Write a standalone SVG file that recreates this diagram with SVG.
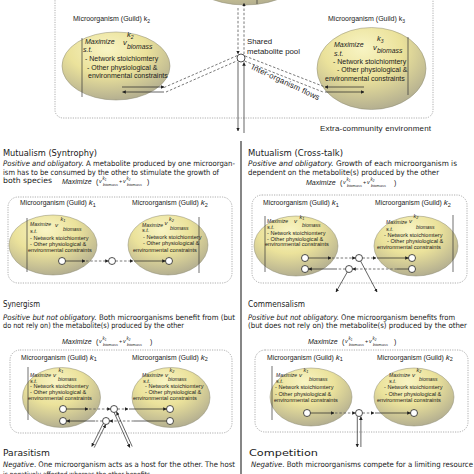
<svg xmlns="http://www.w3.org/2000/svg" width="474" height="474" viewBox="0 0 474 474">
<defs>
<radialGradient id="eg" cx="0.42" cy="0.28" r="0.8" fx="0.42" fy="0.25">
<stop offset="0" stop-color="#f8f4c4"/>
<stop offset="0.45" stop-color="#ebe29b"/>
<stop offset="1" stop-color="#a9a58e"/>
</radialGradient>
<marker id="a" viewBox="0 0 6 6" refX="5.5" refY="3" markerWidth="3.6" markerHeight="3.6" markerUnits="userSpaceOnUse" orient="auto"><path d="M0,0 L6,3 L0,6 z" fill="#222"/></marker>
<style>
.t{font-family:'Liberation Sans',Arial,sans-serif;fill:#1a1a1a}
.it{font-style:italic}
.in{font-size:5.6px}
.im{font-size:5px;font-style:italic}
.iv{font-size:6px;font-style:italic}
.ik{font-size:5.4px;font-style:italic}
.ib{font-size:5px;font-style:italic}
.tp{font-size:7px}
.tv{font-size:7.5px;font-style:italic}
.tb{font-size:6.8px;font-style:italic}
.lab{font-size:6.8px}
.kk{font-size:8px;font-style:italic}
.hd{font-family:'DejaVu Sans Condensed','DejaVu Sans',sans-serif;font-size:9.5px;fill:#1a1a1a}
.ds{font-family:'DejaVu Sans Condensed','DejaVu Sans',sans-serif;font-size:7.6px;fill:#1a1a1a}
.fm{font-size:7px;font-style:italic}
.fv{font-size:5.5px;font-style:italic}
.fk{font-size:4.5px;font-style:italic}
.fb{font-size:4px;font-style:italic}
.ln{stroke:#222;stroke-width:0.7;fill:none}
.dl{stroke:#555;stroke-width:0.8;stroke-dasharray:2.5 1.8;fill:none}
.nd{fill:#fff;stroke:#222;stroke-width:0.8}
.bx{fill:none;stroke:#999;stroke-width:0.8;stroke-dasharray:1.2 1.2}
.el{fill:url(#eg);stroke:#8d8a72;stroke-width:0.5}
.br{stroke:#333;stroke-width:0.7}
.sep{stroke:#444;stroke-width:1.3}
</style>
</defs>
<rect width="474" height="474" fill="#fff"/>

<!-- ===== TOP COMMUNITY ===== -->
<g id="community-boundary"><rect class="bx" x="55" y="-12" width="378" height="130" rx="8"/></g>
<g id="guild-k1-top">
<ellipse class="el" cx="245" cy="-29" rx="60" ry="34"/>
<line class="br" x1="257" y1="0" x2="257" y2="4"/>
</g>
<g id="guild-k2-top">
<text class="t tp" x="73" y="21">Microorganism (Guild) k<tspan font-size="5" dy="2">2</tspan></text>
<ellipse class="el" cx="116" cy="66" rx="54" ry="34"/>
<line class="br" x1="82" y1="38" x2="82" y2="97"/>
<text class="t tp it" x="85" y="44">Maximize</text>
<text class="t tv" x="123" y="45">v</text>
<text class="t tv" x="127" y="37">k<tspan font-size="5" dy="1.5">2</tspan></text>
<text class="t tb" x="127" y="48.5">biomass</text>
<text class="t tp it" x="83" y="52">s.t.</text>
<text class="t tp" x="85" y="61">- Network stoichiomtery</text>
<text class="t tp" x="87" y="69.5">- Other physiological &amp;</text>
<text class="t tp" x="88" y="78">environmental constraints</text>
</g>
<g id="guild-k3-top">
<text class="t tp" x="328" y="21">Microorganism (Guild) k<tspan font-size="5" dy="2">3</tspan></text>
<ellipse class="el" cx="371.5" cy="68.5" rx="54.5" ry="41"/>
<line class="br" x1="408" y1="37" x2="408" y2="95"/>
<text class="t tp it" x="334" y="47">Maximize</text>
<text class="t tv" x="373" y="50">v</text>
<text class="t tv" x="377" y="41">k<tspan font-size="5" dy="1.5">3</tspan></text>
<text class="t tb" x="377" y="53">biomass</text>
<text class="t tp it" x="334" y="55.5">s.t.</text>
<text class="t tp" x="333" y="63.5">- Network stoichiomtery</text>
<text class="t tp" x="337" y="72">- Other physiological  &amp;</text>
<text class="t tp" x="325" y="81">environmental constraints</text>
</g>
<g id="top-connectors">
<line class="ln" x1="122" y1="87" x2="164" y2="87" marker-end="url(#a)"/>
<line class="ln" x1="164" y1="92" x2="122.5" y2="92" marker-end="url(#a)"/>
<line class="dl" x1="164" y1="87.5" x2="237.5" y2="55.5"/>
<line class="dl" x1="166" y1="92" x2="239" y2="60"/>
<line class="dl" x1="245" y1="56" x2="325" y2="87"/>
<line class="dl" x1="244.5" y1="61" x2="323" y2="92"/>
<line class="ln" x1="364" y1="87" x2="325" y2="87" marker-end="url(#a)"/>
<line class="ln" x1="325" y1="92" x2="364" y2="92" marker-end="url(#a)"/>
<line class="dl" x1="238" y1="8" x2="238" y2="54" marker-end="url(#a)"/>
<line class="dl" x1="244" y1="54" x2="244" y2="3" marker-end="url(#a)"/>
<line class="ln" x1="238" y1="62" x2="238" y2="131" marker-end="url(#a)"/>
<line class="ln" x1="244" y1="133" x2="244" y2="62.5" marker-end="url(#a)"/>
</g>
<g id="shared-pool">
<circle class="nd" cx="241" cy="58" r="4"/>
<text class="t" font-size="7.8" x="247" y="44">Shared</text>
<text class="t" font-size="7.8" x="247" y="54">metabolite pool</text>
</g>
<text class="t" font-size="7.8" x="251" y="69" transform="rotate(25 251 69)" textLength="74">Inter-organism flows</text>
<text class="t" font-size="8" x="320" y="130.5" textLength="111">Extra-community environment</text>

<line class="sep" x1="241" y1="141" x2="241" y2="474"/>

<!-- ===== PANEL 1: SYNTROPHY ===== -->
<text class="hd" x="3" y="155.5" textLength="94" lengthAdjust="spacingAndGlyphs">Mutualism (Syntrophy)</text>
<text class="ds" x="3" y="166" textLength="232" lengthAdjust="spacingAndGlyphs"><tspan font-style="italic">Positive and obligatory.</tspan> A metabolite produced by one microorgan-</text>
<text class="ds" x="3" y="174.8" textLength="216" lengthAdjust="spacingAndGlyphs">ism has to be consumed by the other to stimulate the growth of</text>
<text class="ds" x="3" y="183" textLength="49" lengthAdjust="spacingAndGlyphs">both species</text>
<g id="formula-1" class="t" transform="translate(62,184)">
<text class="fm" x="0" y="0">Maximize</text><text font-size="7" x="34" y="0">(</text>
<text class="fv" x="37" y="-1">v</text><text class="fk" x="40.5" y="-3.8">k<tspan font-size="3" dy="1">1</tspan></text><text class="fb" x="41" y="1.5">biomass</text>
<text font-size="5.5" x="57" y="-1">+</text>
<text class="fv" x="61" y="-1">v</text><text class="fk" x="64.5" y="-3.8">k<tspan font-size="3" dy="1">2</tspan></text><text class="fb" x="65" y="1.5">biomass</text>
<text font-size="7" x="85" y="0">)</text>
</g>
<g id="p1-environment"><rect class="bx" x="8" y="197" width="224" height="86" rx="10"/></g>
<g id="p1-k1">
<text class="t lab" x="20" y="205">Microorganism (Guild) <tspan class="kk">k</tspan><tspan font-size="5.5" dy="1.5">1</tspan></text>
<ellipse class="el" cx="53" cy="245" rx="44" ry="30"/>
<line class="br" x1="27" y1="218" x2="27" y2="272"/>
<text class="t im" x="30" y="226">Maximize</text>
<text class="t iv" x="55" y="227">v</text>
<text class="t ik" x="60.5" y="221">k<tspan font-size="3.8" dy="1">1</tspan></text>
<text class="t ib" x="63" y="231">biomass</text>
<text class="t in it" x="30" y="233">s.t.</text>
<text class="t in" x="30" y="240">- Network stoichiomtery</text>
<text class="t in" x="30" y="246">- Other physiological &amp;</text>
<text class="t in" x="28" y="252">environmental constraints</text>
<circle class="nd" cx="62" cy="261" r="3.5"/>
</g>
<g id="p1-k2">
<text class="t lab" x="132" y="205">Microorganism (Guild) <tspan class="kk">k</tspan><tspan font-size="5.5" dy="1.5">2</tspan></text>
<ellipse class="el" cx="168" cy="245" rx="40" ry="30"/>
<line class="br" x1="199" y1="217" x2="199" y2="273"/>
<text class="t im" x="142" y="227">Maximize</text>
<text class="t iv" x="164.5" y="225">v</text>
<text class="t ik" x="169" y="220.5">k<tspan font-size="3.8" dy="1">2</tspan></text>
<text class="t ib" x="170" y="229.5">biomass</text>
<text class="t in it" x="142" y="231.5">s.t.</text>
<text class="t in" x="143" y="239">- Network stoichiomtery</text>
<text class="t in" x="143" y="245">- Other physiological &amp;</text>
<text class="t in" x="133" y="252">environmental constraints</text>
<circle class="nd" cx="169" cy="261" r="3.5"/>
</g>
<g id="p1-metabolite"><circle class="nd" cx="112" cy="261" r="3.5"/></g>
<g id="p1-connectors">
<line class="ln" x1="65.5" y1="261" x2="85" y2="261" marker-end="url(#a)"/>
<line class="dl" x1="86" y1="261" x2="108.5" y2="261" marker-end="url(#a)"/>
<line class="dl" x1="115.5" y1="261" x2="133" y2="261" marker-end="url(#a)"/>
<line class="ln" x1="134" y1="261" x2="165.5" y2="261" marker-end="url(#a)"/>
</g>

<!-- ===== PANEL 2: CROSS-TALK ===== -->
<text class="hd" x="248" y="155.5" textLength="95" lengthAdjust="spacingAndGlyphs">Mutualism (Cross-talk)</text>
<text class="ds" x="248" y="166" textLength="209" lengthAdjust="spacingAndGlyphs"><tspan font-style="italic">Positive and obligatory.</tspan> Growth of each microorganism is</text>
<text class="ds" x="248" y="174.8" textLength="191" lengthAdjust="spacingAndGlyphs">dependent on the metabolite(s) produced by the other</text>
<g id="formula-2" class="t" transform="translate(306,185)">
<text class="fm" x="0" y="0">Maximize</text><text font-size="7" x="34" y="0">(</text>
<text class="fv" x="37" y="-1">v</text><text class="fk" x="40.5" y="-3.8">k<tspan font-size="3" dy="1">1</tspan></text><text class="fb" x="41" y="1.5">biomass</text>
<text font-size="5.5" x="57" y="-1">+</text>
<text class="fv" x="61" y="-1">v</text><text class="fk" x="64.5" y="-3.8">k<tspan font-size="3" dy="1">2</tspan></text><text class="fb" x="65" y="1.5">biomass</text>
<text font-size="7" x="88" y="0">)</text>
</g>
<g id="p2-environment"><rect class="bx" x="252" y="195" width="215" height="88" rx="10"/></g>
<g id="p2-k1">
<text class="t lab" x="263" y="205">Microorganism (Guild) <tspan class="kk">k</tspan><tspan font-size="5.5" dy="1.5">1</tspan></text>
<ellipse class="el" cx="296" cy="246" rx="42" ry="30"/>
<line class="br" x1="265" y1="216" x2="265" y2="272"/>
<text class="t im" x="267" y="223">Maximize</text>
<text class="t iv" x="294" y="223">v</text>
<text class="t ik" x="299.5" y="218.5">k<tspan font-size="3.8" dy="1">1</tspan></text>
<text class="t ib" x="302" y="227">biomass</text>
<text class="t in it" x="267" y="229">s.t.</text>
<text class="t in" x="267" y="234.5">- Network stoichiomtery</text>
<text class="t in" x="267" y="240.5">- Other physiological &amp;</text>
<text class="t in" x="265" y="246">environmental constraints</text>
<circle class="nd" cx="305" cy="258" r="3.5"/>
<circle class="nd" cx="305" cy="269" r="3.5"/>
</g>
<g id="p2-k2">
<text class="t lab" x="375" y="205">Microorganism (Guild) <tspan class="kk">k</tspan><tspan font-size="5.5" dy="1.5">2</tspan></text>
<ellipse class="el" cx="416" cy="246" rx="42" ry="30"/>
<line class="br" x1="453" y1="215" x2="453" y2="272"/>
<text class="t im" x="386" y="224">Maximize</text>
<text class="t iv" x="409" y="222.5">v</text>
<text class="t ik" x="413.5" y="218">k<tspan font-size="3.8" dy="1">2</tspan></text>
<text class="t ib" x="416" y="229">biomass</text>
<text class="t in it" x="386" y="231">s.t.</text>
<text class="t in" x="384" y="236.5">- Network stoichiomtery</text>
<text class="t in" x="387" y="243">- Other physiological &amp;</text>
<text class="t in" x="377" y="249">environmental constraints</text>
<circle class="nd" cx="412" cy="258" r="3.5"/>
<circle class="nd" cx="412" cy="269" r="3.5"/>
</g>
<g id="p2-metabolites">
<circle class="nd" cx="359" cy="258" r="3.5"/>
<circle class="nd" cx="349" cy="269" r="3.5"/>
</g>
<g id="p2-connectors">
<line class="ln" x1="308.5" y1="258" x2="331" y2="258" marker-end="url(#a)"/>
<line class="dl" x1="332" y1="258" x2="355.5" y2="258" marker-end="url(#a)"/>
<line class="dl" x1="362.5" y1="258" x2="376" y2="258" marker-end="url(#a)"/>
<line class="ln" x1="377" y1="258" x2="408.5" y2="258" marker-end="url(#a)"/>
<line class="ln" x1="408.5" y1="269" x2="397" y2="269"/>
<line class="dl" x1="397" y1="269" x2="352.5" y2="269" marker-end="url(#a)"/>
<line class="dl" x1="345.5" y1="269" x2="337" y2="269"/>
<line class="ln" x1="337" y1="269" x2="308.5" y2="269" marker-end="url(#a)"/>
<line class="ln" x1="347.3" y1="272" x2="336" y2="292" marker-end="url(#a)"/>
<line class="ln" x1="360.6" y1="261.1" x2="377" y2="292" marker-end="url(#a)"/>
</g>

<!-- ===== PANEL 3: SYNERGISM ===== -->
<text class="hd" x="3" y="306.5" textLength="37" lengthAdjust="spacingAndGlyphs">Synergism</text>
<text class="ds" x="3" y="319.5" textLength="232" lengthAdjust="spacingAndGlyphs"><tspan font-style="italic">Positive but not obligatory.</tspan> Both microorganisms benefit from (but</text>
<text class="ds" x="3" y="328" textLength="181" lengthAdjust="spacingAndGlyphs">do not rely on) the metabolite(s) produced by the other</text>
<g id="formula-3" class="t" transform="translate(62,344)">
<text class="fm" x="0" y="0">Maximize</text><text font-size="7" x="34" y="0">(</text>
<text class="fv" x="37" y="-1">v</text><text class="fk" x="40.5" y="-3.8">k<tspan font-size="3" dy="1">1</tspan></text><text class="fb" x="41" y="1.5">biomass</text>
<text font-size="5.5" x="57" y="-1">+</text>
<text class="fv" x="61" y="-1">v</text><text class="fk" x="64.5" y="-3.8">k<tspan font-size="3" dy="1">2</tspan></text><text class="fb" x="65" y="1.5">biomass</text>
<text font-size="7" x="88" y="0">)</text>
</g>
<g id="p3-environment"><rect class="bx" x="10" y="350" width="222" height="83" rx="10"/></g>
<g id="p3-k1">
<text class="t lab" x="21" y="359.5">Microorganism (Guild) <tspan class="kk">k</tspan><tspan font-size="5.5" dy="1.5">1</tspan></text>
<ellipse class="el" cx="61.5" cy="397.5" rx="39" ry="30"/>
<line class="br" x1="28" y1="367" x2="28" y2="420"/>
<text class="t im" x="30" y="377">Maximize</text>
<text class="t iv" x="53" y="376.5">v</text>
<text class="t ik" x="58.5" y="372">k<tspan font-size="3.8" dy="1">1</tspan></text>
<text class="t ib" x="58" y="380.5">biomass</text>
<text class="t in it" x="30" y="382.5">s.t.</text>
<text class="t in" x="30" y="387.5">- Network stoichiomtery</text>
<text class="t in" x="30" y="393.5">- Other physiological &amp;</text>
<text class="t in" x="28" y="399.5">environmental constraints</text>
<circle class="nd" cx="63" cy="409" r="3.5"/>
<circle class="nd" cx="63" cy="421" r="3.5"/>
</g>
<g id="p3-k2">
<text class="t lab" x="132" y="359.5">Microorganism (Guild) <tspan class="kk">k</tspan><tspan font-size="5.5" dy="1.5">2</tspan></text>
<ellipse class="el" cx="171" cy="397.5" rx="39" ry="30"/>
<text class="t im" x="142" y="377">Maximize</text>
<text class="t iv" x="165" y="376.5">v</text>
<text class="t ik" x="169.5" y="372">k<tspan font-size="3.8" dy="1">2</tspan></text>
<text class="t ib" x="168" y="380.5">biomass</text>
<text class="t in it" x="143" y="382.5">s.t.</text>
<text class="t in" x="145" y="387.5">- Network stoichiomtery</text>
<text class="t in" x="145" y="393.5">- Other physiological &amp;</text>
<text class="t in" x="133" y="399.5">environmental constraints</text>
<circle class="nd" cx="170" cy="409" r="3.5"/>
<circle class="nd" cx="170" cy="421" r="3.5"/>
</g>
<g id="p3-metabolites">
<circle class="nd" cx="114" cy="409" r="3.5"/>
<circle class="nd" cx="106" cy="421" r="3.5"/>
</g>
<g id="p3-connectors">
<line class="ln" x1="66.5" y1="409" x2="88" y2="409" marker-end="url(#a)"/>
<line class="dl" x1="89" y1="409" x2="110.5" y2="409" marker-end="url(#a)"/>
<line class="dl" x1="117.5" y1="409" x2="128" y2="409" marker-end="url(#a)"/>
<line class="ln" x1="129" y1="409" x2="166.5" y2="409" marker-end="url(#a)"/>
<line class="ln" x1="166.5" y1="421" x2="134" y2="421"/>
<line class="dl" x1="134" y1="421" x2="109.5" y2="421" marker-end="url(#a)"/>
<line class="dl" x1="102.5" y1="421" x2="95" y2="421"/>
<line class="ln" x1="95" y1="421" x2="66.5" y2="421" marker-end="url(#a)"/>
<line class="ln" x1="103.2" y1="423.5" x2="91.8" y2="446.4" marker-end="url(#a)"/>
<line class="ln" x1="94.2" y1="447.6" x2="105.6" y2="424.7" marker-end="url(#a)"/>
<line class="ln" x1="114.2" y1="412.7" x2="129.8" y2="447.5" marker-end="url(#a)"/>
<line class="ln" x1="132.2" y1="446.5" x2="116.6" y2="411.9" marker-end="url(#a)"/>
</g>

<!-- ===== PANEL 4: COMMENSALISM ===== -->
<text class="hd" x="248" y="306.5" textLength="57" lengthAdjust="spacingAndGlyphs">Commensalism</text>
<text class="ds" x="248" y="319.5" textLength="207" lengthAdjust="spacingAndGlyphs"><tspan font-style="italic">Positive but not obligatory.</tspan> One microorganism benefits from</text>
<text class="ds" x="248" y="328" textLength="219" lengthAdjust="spacingAndGlyphs">(but does not rely on) the metabolite(s) produced by the other</text>
<g id="formula-4" class="t" transform="translate(308,344)">
<text class="fm" x="0" y="0">Maximize</text><text font-size="7" x="34" y="0">(</text>
<text class="fv" x="37" y="-1">v</text><text class="fk" x="40.5" y="-3.8">k<tspan font-size="3" dy="1">1</tspan></text><text class="fb" x="41" y="1.5">biomass</text>
<text font-size="5.5" x="57" y="-1">+</text>
<text class="fv" x="61" y="-1">v</text><text class="fk" x="64.5" y="-3.8">k<tspan font-size="3" dy="1">2</tspan></text><text class="fb" x="65" y="1.5">biomass</text>
<text font-size="7" x="86" y="0">)</text>
</g>
<g id="p4-environment"><rect class="bx" x="255" y="350" width="213" height="82" rx="10"/></g>
<g id="p4-k1">
<text class="t lab" x="267" y="359.5">Microorganism (Guild) <tspan class="kk">k</tspan><tspan font-size="5.5" dy="1.5">1</tspan></text>
<ellipse class="el" cx="311" cy="397" rx="41" ry="29"/>
<line class="br" x1="272" y1="366" x2="272" y2="420"/>
<text class="t im" x="276" y="377">Maximize</text>
<text class="t iv" x="299" y="376.5">v</text>
<text class="t ik" x="303.5" y="372">k<tspan font-size="3.8" dy="1">1</tspan></text>
<text class="t ib" x="309" y="380.5">biomass</text>
<text class="t in it" x="276" y="383">s.t.</text>
<text class="t in" x="275" y="388.5">- Network stoichiomtery</text>
<text class="t in" x="275" y="395.5">- Other physiological &amp;</text>
<text class="t in" x="274" y="402">environmental constraints</text>
<circle class="nd" cx="307" cy="413" r="3.5"/>
</g>
<g id="p4-k2">
<text class="t lab" x="377" y="359.5">Microorganism (Guild) <tspan class="kk">k</tspan><tspan font-size="5.5" dy="1.5">2</tspan></text>
<ellipse class="el" cx="414" cy="397" rx="40" ry="29"/>
<text class="t im" x="389" y="377">Maximize</text>
<text class="t iv" x="412" y="376.5">v</text>
<text class="t ik" x="416.5" y="372">k<tspan font-size="3.8" dy="1">2</tspan></text>
<text class="t ib" x="419" y="380.5">biomass</text>
<text class="t in it" x="389" y="383">s.t.</text>
<text class="t in" x="384" y="388.5">- Network stoichiomtery</text>
<text class="t in" x="385" y="395.5">- Other physiological &amp;</text>
<text class="t in" x="377" y="402">environmental constraints</text>
<circle class="nd" cx="414" cy="413" r="3.5"/>
</g>
<g id="p4-metabolite"><circle class="nd" cx="359" cy="413" r="3.5"/></g>
<g id="p4-connectors">
<line class="ln" x1="310.5" y1="413" x2="334" y2="413" marker-end="url(#a)"/>
<line class="dl" x1="335" y1="413" x2="355.5" y2="413" marker-end="url(#a)"/>
<line class="dl" x1="362.5" y1="413" x2="374" y2="413" marker-end="url(#a)"/>
<line class="ln" x1="375" y1="413" x2="410.5" y2="413" marker-end="url(#a)"/>
<line class="ln" x1="357.3" y1="416.4" x2="357.3" y2="447" marker-end="url(#a)"/>
<line class="ln" x1="360.9" y1="447" x2="360.9" y2="416.6" marker-end="url(#a)"/>
</g>

<!-- ===== PARASITISM / COMPETITION headings ===== -->
<text class="hd" x="3" y="455.5" textLength="47" lengthAdjust="spacingAndGlyphs">Parasitism</text>
<text class="ds" x="3" y="466.5" textLength="232" lengthAdjust="spacingAndGlyphs"><tspan font-style="italic">Negative</tspan>. One microorganism acts as a host for the other. The host</text>
<text class="ds" x="3" y="476.5" textLength="147" lengthAdjust="spacingAndGlyphs">is negatively affected whereas the other benefits</text>
<text class="hd" x="249" y="455.5" textLength="69" lengthAdjust="spacingAndGlyphs">Competition</text>
<text class="ds" x="251" y="466.5" textLength="222" lengthAdjust="spacingAndGlyphs"><tspan font-style="italic">Negative</tspan>. Both microorganisms compete for a limiting resource</text>
</svg>
